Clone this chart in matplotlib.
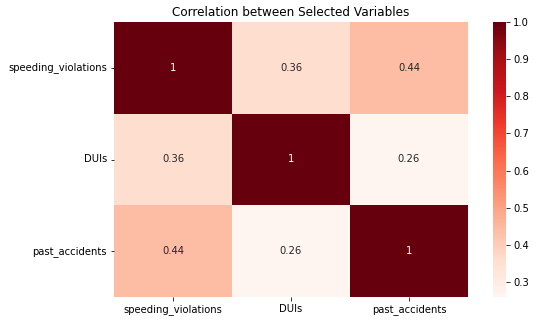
import numpy as np
import pandas as pd
import matplotlib
matplotlib.use("Agg")
import matplotlib.pyplot as plt
import seaborn as sns

variables = ["speeding_violations", "DUIs", "past_accidents"]
corr_values = [
    [1.00, 0.36, 0.44],
    [0.36, 1.00, 0.26],
    [0.44, 0.26, 1.00],
]

corr = pd.DataFrame(corr_values, index=variables, columns=variables)

fig = plt.figure(figsize=(536 / 72, 320 / 72), dpi=72)
ax = fig.add_axes([114 / 536, 1 - 297 / 320, 354 / 536, 275 / 320])
cax = fig.add_axes([493 / 536, 1 - 297 / 320, 13 / 536, 275 / 320])

sns.heatmap(corr, annot=True, cmap="Reds", ax=ax, cbar_ax=cax)
ax.set_title("Correlation between Selected Variables", fontsize=12)
ax.tick_params(labelsize=10)
ax.set_yticklabels(ax.get_yticklabels(), rotation=0)
cax.tick_params(labelsize=10)

fig.savefig("out.png", dpi=72)
